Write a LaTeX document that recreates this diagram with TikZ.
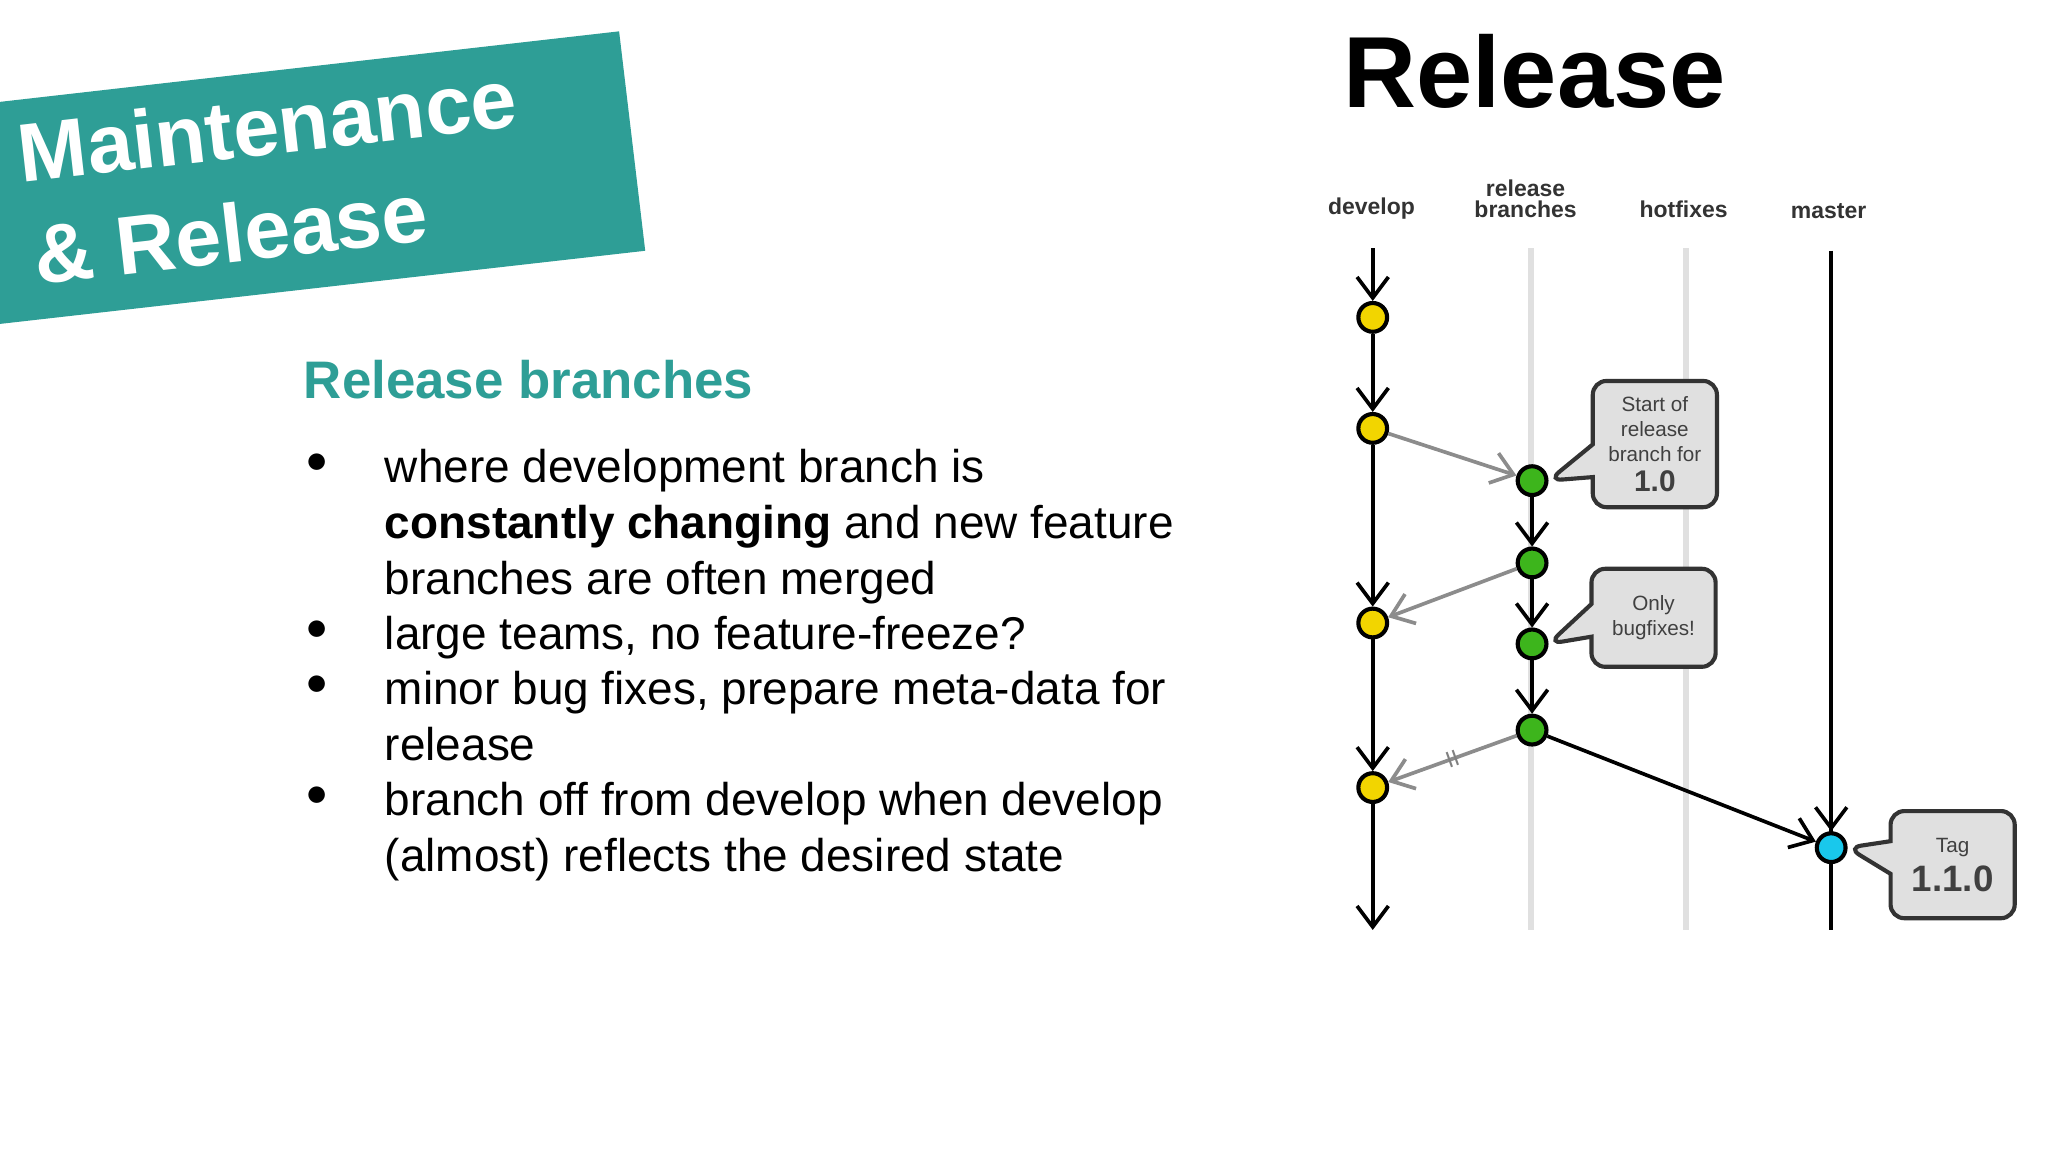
\documentclass[tikz,border=0pt]{standalone}
\usepackage{fontspec}
\setmainfont{Liberation Sans}
\usetikzlibrary{arrows.meta, positioning, shapes.callouts}

\definecolor{teal}{HTML}{2E9E96}
\definecolor{commitY}{HTML}{F2D500}
\definecolor{commitG}{HTML}{3DB51C}
\definecolor{commitC}{HTML}{19C8EC}

\tikzset{
  commit/.style={circle, draw=black, line width=0.9pt, minimum size=0.22cm, inner sep=0pt},
  branchlbl/.style={font=\fontsize{5}{5.5}\selectfont\bfseries, align=center, text=black!80},
  flow/.style={-{Straight Barb[length=1.6mm,width=2.4mm]}, line width=0.8pt},
  merge/.style={-{Straight Barb[length=1.6mm,width=2.4mm]}, line width=0.8pt, draw=black!45},
  note/.style={rectangle callout, draw=black!80, line width=0.9pt, fill=black!12, rounded corners=3pt,
    font=\fontsize{4.5}{5.5}\selectfont, align=center, text=black!75, minimum width=0.95cm},
  banner/.style={rotate=6.5, anchor=base west, text=white, font=\fontsize{18}{20}\selectfont\bfseries, inner sep=0pt},
  bullet/.style={anchor=north west, align=left, font=\fontsize{10}{12.2}\selectfont, inner sep=0pt}
}

\begin{document}
\begin{tikzpicture}[x=0.01cm, y=-0.01cm]
  \useasboundingbox (0,0) rectangle (1568,882);
  \fill[white] (0,0) rectangle (1568,882);

  % --- banner
  \fill[teal] (0,78) -- (474,24) -- (494,192) -- (0,248) -- cycle;
  \node[banner] (banner1) at (16,140) {Maintenance};
  \node[banner] (banner2) at (28,218) {\& Release};

  % --- title and text
  \node[font=\fontsize{22}{25}\selectfont\bfseries] (title) at (1175,55) {Release};
  \node[anchor=west, text=teal, font=\fontsize{11.5}{13}\selectfont\bfseries, inner sep=0pt] (sub) at (232,291) {Release branches};

  \foreach \y/\txt in {343/{where development branch is\\\textbf{constantly changing} and new feature\\branches are often merged},
                      471/{large teams, no feature-freeze?},
                      513/{minor bug fixes, prepare meta-data for\\release},
                      598/{branch off from develop when develop\\(almost) reflects the desired state}}{
    \node[anchor=north, font=\fontsize{9}{10}\selectfont, inner sep=0pt] at (243,\y+4) {$\bullet$};
    \node[bullet] at (294,\y) {\txt};
  }

  % --- branch labels
  \node[branchlbl] (ldev) at (1050,160) {develop};
  \node[branchlbl] (lrel) at (1168,152) {release\\[-1pt]branches};
  \node[branchlbl] (lhot) at (1289,160) {hotfixes};
  \node[branchlbl] (lmas) at (1400,162) {master};

  % --- lanes
  \draw[black!12, line width=1.3pt] (1172,190) -- (1172,712);
  \draw[black!12, line width=1.3pt] (1291,190) -- (1291,712);
  \draw[line width=0.9pt] (1402,192) -- (1402,712);
  \coordinate (dtop) at (1051,190);
  \coordinate (dbot) at (1051,712);

  % --- commits
  \node[commit, fill=commitY] (d1) at (1051,243) {};
  \node[commit, fill=commitY] (d2) at (1051,328) {};
  \node[commit, fill=commitY] (d3) at (1051,477) {};
  \node[commit, fill=commitY] (d4) at (1051,603) {};
  \node[commit, fill=commitG] (r1) at (1173,368) {};
  \node[commit, fill=commitG] (r2) at (1173,431) {};
  \node[commit, fill=commitG] (r3) at (1173,493) {};
  \node[commit, fill=commitG] (r4) at (1173,559) {};
  \node[commit, fill=commitC] (m1) at (1402,649) {};
  \coordinate (mtop) at (1402,192);

  % --- connections
  \draw[flow] (dtop) -- (d1);
  \draw[flow] (d1) -- (d2);
  \draw[flow] (d2) -- (d3);
  \draw[flow] (d3) -- (d4);
  \draw[flow] (d4) -- (dbot);
  \draw[flow] (r1) -- (r2);
  \draw[flow] (r2) -- (r3);
  \draw[flow] (r3) -- (r4);
  \draw[flow] (mtop) -- (m1);
  \draw[flow] (r4) -- (m1);
  \draw[merge] (d2) -- (r1);
  \draw[merge] (r2) -- (d3);
  \draw[merge] (r4) -- node[sloped, font=\fontsize{5}{5}\selectfont, text=black!50, inner sep=0pt] {II} (d4);

  % --- notes
  \node[note, minimum height=0.95cm, callout absolute pointer={(r1.east)}] (n1) at (1267,340)
    {Start of\\release\\branch for\\[1pt]{\fontsize{6.5}{7}\selectfont\bfseries 1.0}};
  \node[note, minimum height=0.75cm, callout absolute pointer={(r3.east)}] (n2) at (1266,473)
    {Only\\bugfixes!};
  \node[note, minimum height=0.82cm, callout absolute pointer={(m1.east)}] (n3) at (1495,662)
    {Tag\\[1pt]{\fontsize{8}{9}\selectfont\bfseries 1.1.0}};
\end{tikzpicture}
\end{document}
